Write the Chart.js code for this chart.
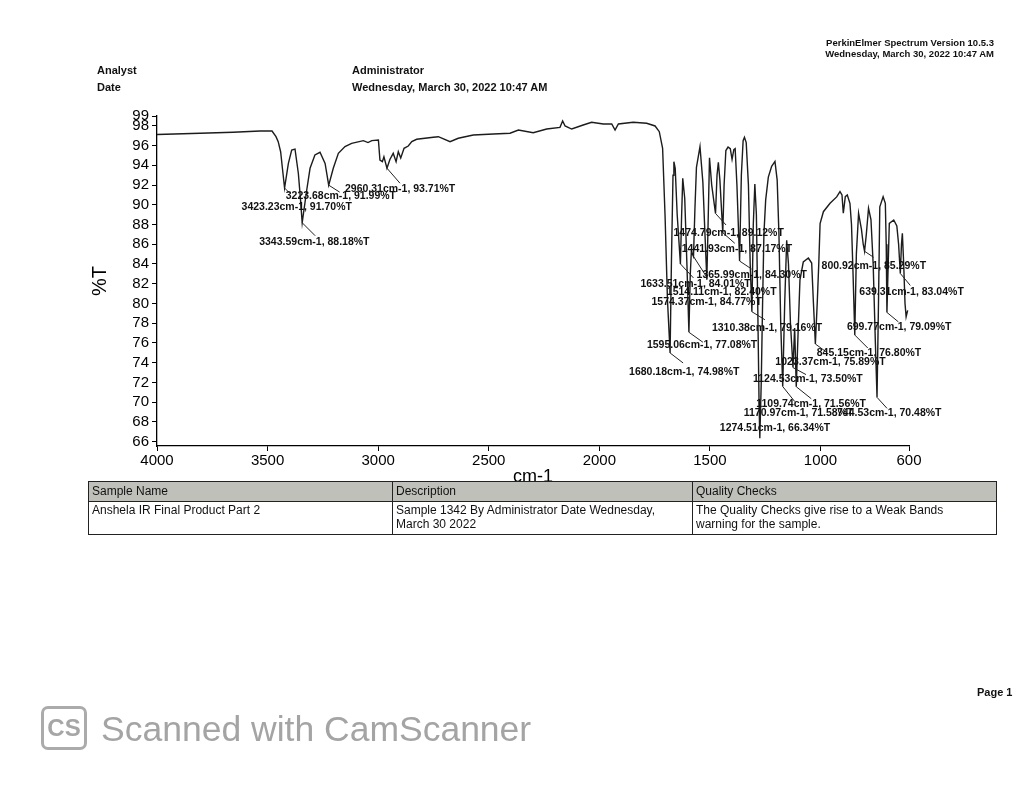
<!DOCTYPE html>
<html>
<head>
<meta charset="utf-8">
<title>IR spectrum</title>
<script src="https://cdn.jsdelivr.net/npm/chart.js@4.4.1/dist/chart.umd.min.js"></script>
<style>
  html, body { margin: 0; padding: 0; background: #fff; }
  body { width: 1024px; height: 787px; position: relative; overflow: hidden; font-family: "Liberation Sans", Arial, sans-serif; color: #111; }
  #chartCanvas { position: absolute; left: 0; top: 0; }
  .t { position: absolute; white-space: nowrap; }
  .hdr { font-size: 11px; font-weight: bold; line-height: 12px; }
  .info { table-layout: fixed; border-collapse: collapse; position: absolute; left: 88px; top: 481px; width: 908px; font-size: 12px; }
  .info td { border: 1.5px solid #222; padding: 0 3px; vertical-align: top; line-height: 13.5px; }
  .info tr.head td { background: #c0c0bb; height: 19px; vertical-align: middle; }
  .info tr.body td { height: 30px; padding-top: 2px; }
  .logo { position: absolute; left: 41px; top: 706px; width: 40px; height: 38px; border: 3px solid #ababab; border-radius: 7px; color: #a6a6a6; font: bold 24px "Liberation Sans", Arial, sans-serif; text-align: center; line-height: 38px; }
  .scan { position: absolute; left: 101px; top: 708px; font-size: 35.5px; color: #a4a4a4; line-height: 42px; }
</style>
</head>
<body>
<canvas id="chartCanvas" width="1024" height="787"></canvas>

<div class="t" style="right:30px; top:37px; font-size:9.5px; font-weight:bold; text-align:right; line-height:11px;">PerkinElmer Spectrum Version 10.5.3<br>Wednesday, March 30, 2022 10:47 AM</div>
<div class="t hdr" style="left:97px; top:64px;">Analyst</div>
<div class="t hdr" style="left:97px; top:81px;">Date</div>
<div class="t hdr" style="left:352px; top:64px;">Administrator</div>
<div class="t hdr" style="left:352px; top:81px;">Wednesday, March 30, 2022 10:47 AM</div>

<table class="info">
  <colgroup><col style="width:304px"><col style="width:300px"><col style="width:304px"></colgroup>
  <tr class="head"><td>Sample Name</td><td>Description</td><td>Quality Checks</td></tr>
  <tr class="body"><td>Anshela IR Final Product Part 2</td><td>Sample 1342 By Administrator Date Wednesday,<br>March 30 2022</td><td>The Quality Checks give rise to a Weak Bands<br>warning for the sample.</td></tr>
</table>

<div class="t" style="left:977px; top:686px; font-size:11px; font-weight:bold;">Page 1</div>
<div class="logo">CS</div>
<div class="scan">Scanned with CamScanner</div>

<script>
// spectrum trace (cm-1 and %T)
const wavenumbers = [
  4000, 3805, 3656, 3534, 3480, 3462, 3452, 3441, 3432, 3423.23,
  3406, 3391, 3376, 3361, 3351, 3343.59, 3323, 3308, 3286, 3263,
  3240, 3223.68, 3203, 3180, 3150, 3120, 3067, 3046, 3029, 2999,
  2992, 2981, 2974, 2960.31, 2947, 2932, 2919, 2909, 2898, 2883,
  2864, 2848, 2826, 2751, 2728, 2675, 2638, 2570, 2479, 2404,
  2366, 2299, 2238, 2178, 2166, 2155, 2125, 2073, 2035, 1982,
  1944, 1929, 1914, 1847, 1786, 1748, 1729, 1714, 1703, 1692,
  1680.18, 1674, 1667, 1663, 1657, 1648, 1633.51, 1628, 1623, 1614,
  1604, 1595.06, 1589, 1584, 1579, 1574.37, 1568, 1561, 1545, 1532,
  1514.11, 1509, 1502, 1492, 1474.79, 1468, 1462, 1455, 1441.93, 1436,
  1428, 1418, 1408, 1400, 1392, 1386, 1378, 1365.99, 1358, 1350,
  1344, 1336, 1326, 1318, 1310.38, 1304, 1297, 1290, 1284, 1278,
  1274.51, 1268, 1262, 1256, 1248, 1236, 1221, 1206, 1196, 1188,
  1180, 1170.97, 1162, 1153, 1145, 1136, 1124.53, 1117, 1109.74, 1100,
  1093, 1078, 1055, 1040, 1032, 1023.37, 1015, 1008, 1002, 987,
  957, 927, 912, 903, 897, 888, 879, 867, 860, 853,
  845.15, 838, 828, 815, 807, 800.92, 793, 783, 772, 762,
  752, 744.53, 738, 732, 717, 707, 703, 699.77, 694, 689,
  669, 655, 647, 639.31, 634, 630, 624, 618, 613, 606
];
const transmittance = [
  97.12, 97.25, 97.35, 97.48, 97.48, 96.9, 96.4, 95.38, 93.5, 91.70,
  94.2, 95.55, 95.65, 93.2, 90.5, 88.18, 91.5, 93.7, 95.05, 95.32,
  94.2, 91.99, 93.7, 95.22, 95.9, 96.23, 96.5, 96.31, 96.5, 96.57,
  94.54, 94.37, 94.87, 93.71, 94.6, 95.22, 94.37, 95.38, 94.74, 95.73,
  95.96, 96.4, 96.64, 96.84, 96.9, 96.4, 96.74, 97.07, 97.18, 97.25,
  97.58, 97.31, 97.68, 97.85, 98.49, 97.99, 97.68, 98.09, 98.36, 98.19,
  98.19, 97.58, 98.19, 98.36, 98.26, 97.99, 97.41, 95.73, 88.96, 80.35,
  74.98, 84.4, 93.0, 94.37, 93.7, 88.96, 84.01, 88.96, 92.68, 90.66,
  83.9, 77.08, 82.9, 85.3, 85.0, 84.77, 89.5, 93.8, 95.9, 92.3,
  82.40, 87.4, 94.77, 92.0, 89.12, 93.0, 94.3, 92.5, 87.17, 92.0,
  95.5, 95.85, 95.7, 94.6, 95.6, 95.7, 92.0, 84.30, 93.0, 96.5,
  96.84, 96.3, 92.0, 84.0, 79.16, 88.0, 92.1, 89.0, 80.0, 70.0,
  66.34, 72.0, 80.0, 87.0, 90.5, 92.8, 93.9, 94.4, 92.5, 87.0,
  78.0, 71.58, 80.0, 86.4, 84.0, 78.0, 73.50, 77.5, 71.56, 78.0,
  82.4, 84.2, 84.6, 84.1, 80.0, 75.89, 80.0, 84.0, 88.1, 89.3,
  90.15, 90.8, 91.33, 91.0, 89.14, 90.82, 91.0, 90.15, 88.0, 83.0,
  76.80, 85.0, 89.14, 87.5, 86.0, 85.29, 87.0, 89.65, 88.5, 84.0,
  76.0, 70.48, 80.0, 89.8, 90.82, 90.15, 86.0, 79.09, 84.0, 88.12,
  88.46, 87.85, 86.0, 83.04, 86.0, 87.1, 84.0, 80.0, 78.65, 79.3
];

// labelled peaks
const peakWn = [3423.23, 3343.59, 3223.68, 2960.31, 1680.18, 1633.51, 1595.06, 1574.37, 1514.11, 1474.79, 1441.93, 1365.99,
  1310.38, 1274.51, 1170.97, 1124.53, 1109.74, 1023.37, 845.15, 800.92, 744.53, 699.77, 639.31];
const peakT = [91.70, 88.18, 91.99, 93.71, 74.98, 84.01, 77.08, 84.77, 82.40, 89.12, 87.17, 84.30,
  79.16, 66.34, 71.58, 73.50, 71.56, 75.89, 76.80, 85.29, 70.48, 79.09, 83.04];

const xTicks = [4000, 3500, 3000, 2500, 2000, 1500, 1000, 600];
const yTicks = [66, 68, 70, 72, 74, 76, 78, 80, 82, 84, 86, 88, 90, 92, 94, 96, 98, 99];

// where each peak label sits relative to its peak: [text dx, text dy, leader dx, leader dy]
const labelOffsets = [
  [-43, 19, 5, 5], [-43, 19, 13, 13], [-43, 11, 11, 7], [-42, 21, 13, 15],
  [-41, 19, 13, 10], [-40, 20, 13, 14], [-42, 13, 14, 10], [-42, 46, 14, 22],
  [-40, 12, 0, 0], [-42, 19.5, 10.5, 11.5], [-41, 16, 12, 10.6], [-43, 14, 12, 8],
  [-40, 16, 13, 8], [-40, -10, 0, 0], [-39, 27, 12, 15], [-40, 12, 13, 7],
  [-40, 17, 15, 12], [-40, 18, 11, 8], [-38, 18, 13, 13], [-43, 15, 9, 6],
  [-40, 16, 10, 11], [-40, 15, 11.5, 9.5], [-41, 19, 10, 12]
];

const FONT = '"Liberation Sans", Arial, sans-serif';

const peakLabels = {
  id: 'peakLabels',
  afterDatasetsDraw(chart) {
    const { ctx, scales: { x, y } } = chart;
    ctx.save();
    ctx.strokeStyle = '#222';
    ctx.lineWidth = 1;
    ctx.fillStyle = '#111';
    ctx.font = 'bold 10.5px ' + FONT;
    ctx.textAlign = 'left';
    ctx.textBaseline = 'middle';
    peakWn.forEach((wn, i) => {
      const px = x.getPixelForValue(wn);
      const py = y.getPixelForValue(peakT[i]);
      const [tdx, tdy, ldx, ldy] = labelOffsets[i];
      if (ldx || ldy) {
        ctx.beginPath();
        ctx.moveTo(px, py);
        ctx.lineTo(px + ldx, py + ldy);
        ctx.stroke();
      }
      ctx.fillText(wn.toFixed(2) + 'cm-1, ' + peakT[i].toFixed(2) + '%T', px + tdx, py + tdy);
    });
    ctx.restore();
  }
};

const ctx = document.getElementById('chartCanvas').getContext('2d');

new Chart(ctx, {
  type: 'line',
  data: {
    datasets: [{
      data: wavenumbers.map((w, i) => ({ x: w, y: transmittance[i] })),
      borderColor: '#1c1c1c',
      borderWidth: 1.4,
      pointRadius: 0,
      tension: 0,
      fill: false
    }]
  },
  options: {
    responsive: false,
    animation: false,
    layout: { padding: { left: 80, right: 115, top: 116, bottom: 295 } },
    plugins: { legend: { display: false }, tooltip: { enabled: false } },
    scales: {
      x: {
        type: 'linear',
        reverse: true,
        min: 600,
        max: 4000,
        afterBuildTicks: scale => { scale.ticks = xTicks.map(v => ({ value: v })); },
        afterFit: scale => { scale.height = 46; },
        ticks: { color: '#000', font: { size: 15, family: FONT }, padding: 1, maxRotation: 0, autoSkip: false,
          callback: v => String(v) },
        grid: { drawOnChartArea: false, drawTicks: true, tickLength: 5, color: '#000' },
        border: { color: '#000', width: 1.3 },
        title: { display: true, text: 'cm-1', color: '#000', font: { size: 18, family: FONT } }
      },
      y: {
        min: 65.55,
        max: 99,
        afterBuildTicks: scale => { scale.ticks = yTicks.map(v => ({ value: v })); },
        afterFit: scale => { scale.width = 77; },
        ticks: { color: '#000', font: { size: 15, family: FONT }, padding: 3, autoSkip: false,
          callback: v => String(v) },
        grid: { drawOnChartArea: false, drawTicks: true, tickLength: 5, color: '#000' },
        border: { color: '#000', width: 1.3 },
        title: { display: true, text: '%T', color: '#000', font: { size: 20, family: FONT }, padding: { top: 8, bottom: 4 } }
      }
    }
  },
  plugins: [peakLabels]
});
</script>
</body>
</html>
